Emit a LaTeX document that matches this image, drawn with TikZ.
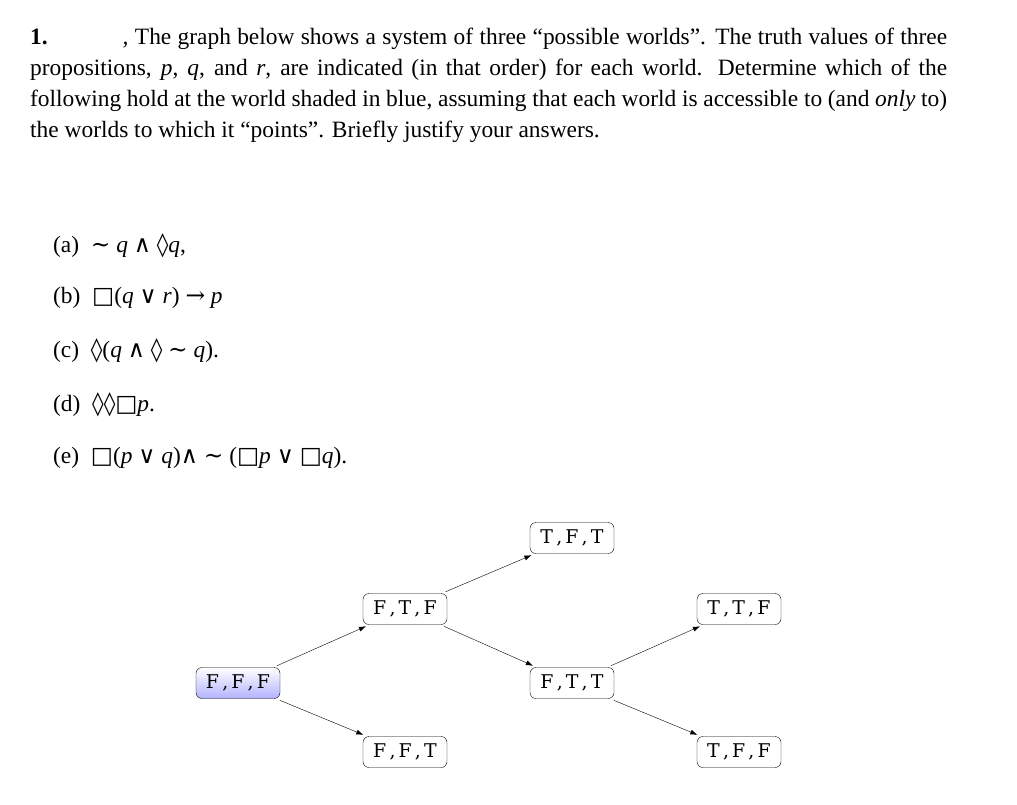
\documentclass[tikz,border=0pt]{standalone}
\usetikzlibrary{arrows.meta}
\usepackage{fontspec}
\setmainfont{Liberation Serif}
\newfontfamily\symf{DejaVu Serif}
\newfontfamily\nodef{DejaVu Serif}
\newcommand{\dia}{{\symf\char"25CA}}
\newcommand{\bx}{{\symf\char"25A1}}
\newcommand{\myand}{{\symf\char"2227}}
\newcommand{\myor}{{\symf\char"2228}}
\newcommand{\myto}{{\symf\char"2192}}
\newcommand{\tl}{{\symf\char"223C}}
\newcommand{\cm}{\,,\,}
\begin{document}
\begin{tikzpicture}[x=1bp,y=-1bp,
  world/.style={draw,rounded corners=6bp,minimum width=84bp,minimum height=31bp,inner sep=2bp,font=\nodef\fontsize{19}{22}\selectfont},
  cur/.style={world,top color=white,bottom color=blue!30},
  arr/.style={-{Latex[length=7bp,width=5bp]},shorten >=4bp,shorten <=4bp}]
\useasboundingbox (0,0) rectangle (1017,805);
\node[anchor=north west,inner sep=0,text width=917bp,align=justify,font=\fontsize{23.5}{31}\selectfont] (intro) at (30,28)
 {\textbf{1.}\hspace{3.2em}\textit{,} The graph below shows a system of three “possible worlds”. The truth values of three propositions, \textit{p}, \textit{q}, and \textit{r}, are indicated (in that order) for each world. Determine which of the following hold at the world shaded in blue, assuming that each world is accessible to (and \textit{only} to) the worlds to which it “points”. Briefly justify your answers.};
\begin{scope}[every node/.style={anchor=west,inner sep=0,font=\fontsize{23.5}{26}\selectfont}]
\node (a) at (53,246) {(a)\ \ \tl\ \textit{q} \myand\ \dia\textit{q},};
\node (b) at (53,298) {(b)\ \ \bx(\textit{q} \myor\ \textit{r}) \myto\ \textit{p}};
\node (c) at (53,351) {(c)\ \ \dia(\textit{q} \myand\ \dia\ \tl\ \textit{q}).};
\node (d) at (53,405) {(d)\ \ \dia\dia\bx\textit{p}.};
\node (e) at (53,458) {(e)\ \ \bx(\textit{p} \myor\ \textit{q})\myand\ \tl\ (\bx\textit{p} \myor\ \bx\textit{q}).};
\end{scope}
\node[cur] (fff) at (238,683) {F\cm F\cm F};
\node[world] (ftf) at (405,609) {F\cm T\cm F};
\node[world] (fft) at (405,752) {F\cm F\cm T};
\node[world] (tft) at (572,538) {T\cm F\cm T};
\node[world] (ftt) at (572,683) {F\cm T\cm T};
\node[world] (ttf) at (739,609) {T\cm T\cm F};
\node[world] (tff) at (739,752) {T\cm F\cm F};
\draw[arr] (fff) -- (ftf);
\draw[arr] (fff) -- (fft);
\draw[arr] (ftf) -- (tft);
\draw[arr] (ftf) -- (ftt);
\draw[arr] (ftt) -- (ttf);
\draw[arr] (ftt) -- (tff);
\end{tikzpicture}
\end{document}
